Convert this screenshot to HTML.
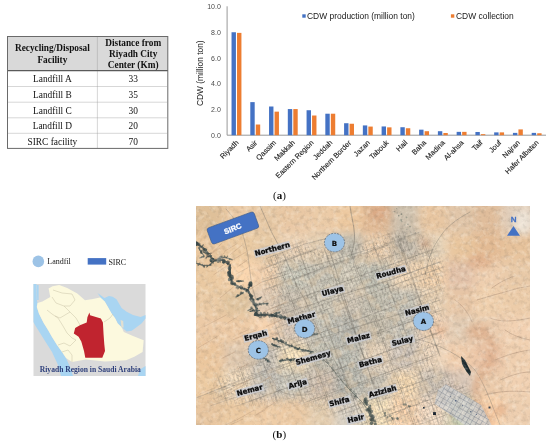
<!DOCTYPE html>
<html><head><meta charset="utf-8">
<style>
html,body{margin:0;padding:0;background:#fff;}
body{width:550px;height:443px;position:relative;overflow:hidden;}
svg{position:absolute;left:0;top:0;}
.th{font-family:"Liberation Serif",serif;font-weight:bold;font-size:9.3px;fill:#111;}
.td{font-family:"Liberation Serif",serif;font-size:9.4px;fill:#111;}
.tk{font-family:"Liberation Sans",sans-serif;font-size:7px;fill:#4a4a4a;}
.xl{font-family:"Liberation Sans",sans-serif;font-size:7.3px;fill:#1a1a1a;stroke:#1a1a1a;stroke-width:0.12px;}
.yt{font-family:"Liberation Sans",sans-serif;font-size:8.4px;fill:#1a1a1a;}
.lg{font-family:"Liberation Sans",sans-serif;font-size:8.45px;fill:#1a1a1a;}
.ml{font-family:"DejaVu Sans",sans-serif;font-weight:bold;font-size:7.1px;fill:#0a0a0a;stroke:#0a0a0a;stroke-width:0.32px;}
.cl{font-family:"DejaVu Sans",sans-serif;font-weight:bold;font-size:7px;fill:#111;stroke:#111;stroke-width:0.2px;}
.sirc{font-family:"Liberation Sans",sans-serif;font-weight:bold;font-size:7.6px;fill:#fff;stroke:#fff;stroke-width:0.25px;}
.na{font-family:"Liberation Sans",sans-serif;font-weight:bold;font-size:8px;fill:#4472c4;stroke:#4472c4;stroke-width:0.3px;}
.cap{font-family:"Liberation Serif",serif;font-size:11px;fill:#111;}
.leg2{font-family:"Liberation Serif",serif;font-size:8px;fill:#222;}
.smt{font-family:"Liberation Serif",serif;font-weight:bold;font-size:8.3px;fill:#2c3e7a;}
</style></head><body>
<svg width="550" height="443" viewBox="0 0 550 443">
<defs>
<filter id="blurB" x="-20%" y="-20%" width="140%" height="140%"><feGaussianBlur stdDeviation="5"/></filter>
<filter id="blur3" x="-20%" y="-20%" width="140%" height="140%"><feGaussianBlur stdDeviation="3"/></filter>
<filter id="blur1" x="-20%" y="-20%" width="140%" height="140%"><feGaussianBlur stdDeviation="0.7"/></filter>
<filter id="blur05" x="-5%" y="-5%" width="110%" height="110%"><feGaussianBlur stdDeviation="0.45"/></filter>
<filter id="blurM" x="-20%" y="-20%" width="140%" height="140%"><feGaussianBlur stdDeviation="4"/></filter>
<filter id="noise" x="0" y="0" width="100%" height="100%" color-interpolation-filters="sRGB">
<feTurbulence type="fractalNoise" baseFrequency="0.22" numOctaves="3" seed="7" result="t"/>
<feColorMatrix in="t" type="matrix" values="0 0 0 0 0.32  0 0 0 0 0.30  0 0 0 0 0.27  -2.6 0 0 0 1.38"/>
</filter>
<filter id="noiseL" x="0" y="0" width="100%" height="100%" color-interpolation-filters="sRGB">
<feTurbulence type="fractalNoise" baseFrequency="0.18" numOctaves="3" seed="11" result="t"/>
<feColorMatrix in="t" type="matrix" values="0 0 0 0 1  0 0 0 0 0.96  0 0 0 0 0.9  0 -2.6 0 0 1.38"/>
</filter>
<pattern id="ugrid" patternUnits="userSpaceOnUse" width="3.6" height="11" patternTransform="rotate(-20)">
<rect x="0" y="0" width="3.6" height="0.8" fill="#77726a"/>
<rect x="0" y="0" width="0.6" height="11" fill="#77726a"/>
</pattern>
<pattern id="ugrid2" patternUnits="userSpaceOnUse" width="24" height="20" patternTransform="rotate(-20) translate(3,2)">
<rect x="0" y="0" width="24" height="0.9" fill="#6d6860"/>
<rect x="0" y="0" width="0.9" height="20" fill="#6d6860"/>
</pattern>
<filter id="noiseF" x="0" y="0" width="100%" height="100%" color-interpolation-filters="sRGB">
<feTurbulence type="fractalNoise" baseFrequency="0.45" numOctaves="2" seed="3" result="t"/>
<feColorMatrix in="t" type="matrix" values="0 0 0 0 0.42  0 0 0 0 0.40  0 0 0 0 0.37  -3.2 0 0 0 1.75"/>
</filter>
<filter id="noiseFL" x="0" y="0" width="100%" height="100%" color-interpolation-filters="sRGB">
<feTurbulence type="fractalNoise" baseFrequency="0.5" numOctaves="2" seed="9" result="t"/>
<feColorMatrix in="t" type="matrix" values="0 0 0 0 0.95  0 0 0 0 0.9  0 0 0 0 0.82  0 -3.2 0 0 1.75"/>
</filter>
<filter id="tanp" x="0" y="0" width="100%" height="100%" color-interpolation-filters="sRGB">
<feTurbulence type="fractalNoise" baseFrequency="0.09" numOctaves="2" seed="21" result="t"/>
<feColorMatrix in="t" type="matrix" values="0 0 0 0 0.87  0 0 0 0 0.78  0 0 0 0 0.66  7 0 0 0 -3.6"/>
</filter>
<mask id="umask" maskUnits="userSpaceOnUse" x="196" y="206" width="334" height="219">
<path d="M262,255 L300,240 L330,250 L360,240 L400,230 L430,238 L445,268 L440,300 L445,340 L432,362 L470,390 L492,420 L440,428 L360,428 L340,415 L300,402 L250,405 L210,400 L215,380 L250,360 L270,345 L275,320 L265,290 Z" fill="#fff" filter="url(#blurM)"/>
</mask>
<clipPath id="mclip"><rect x="196" y="206" width="334" height="219"/></clipPath>
</defs>
<rect x="7" y="36" width="161" height="34.5" fill="#d9d9d9"/>
<line x1="7.5" y1="86.5" x2="167.5" y2="86.5" stroke="#9a9a9a" stroke-width="0.8" stroke-dasharray="1 1"/>
<line x1="7.5" y1="102.2" x2="167.5" y2="102.2" stroke="#9a9a9a" stroke-width="0.8" stroke-dasharray="1 1"/>
<line x1="7.5" y1="117.8" x2="167.5" y2="117.8" stroke="#9a9a9a" stroke-width="0.8" stroke-dasharray="1 1"/>
<line x1="7.5" y1="133.3" x2="167.5" y2="133.3" stroke="#9a9a9a" stroke-width="0.8" stroke-dasharray="1 1"/>
<line x1="97.4" y1="36.5" x2="97.4" y2="148.3" stroke="#9a9a9a" stroke-width="0.8" stroke-dasharray="1 1"/>
<line x1="7" y1="70.6" x2="168" y2="70.6" stroke="#5a5a5a" stroke-width="1.4"/>
<rect x="7.5" y="36.5" width="160.3" height="111.9" fill="none" stroke="#6a6a6a" stroke-width="1"/>
<text class="th" x="52.4" y="51.3" text-anchor="middle">Recycling/Disposal</text>
<text class="th" x="52.4" y="63" text-anchor="middle">Facility</text>
<text class="th" x="133.2" y="45.8" text-anchor="middle">Distance from</text>
<text class="th" x="133.2" y="57" text-anchor="middle">Riyadh City</text>
<text class="th" x="133.2" y="67.9" text-anchor="middle">Center (Km)</text>
<text class="td" x="52.4" y="82.4" text-anchor="middle">Landfill A</text>
<text class="td" x="133.2" y="82.4" text-anchor="middle">33</text>
<text class="td" x="52.4" y="98.0" text-anchor="middle">Landfill B</text>
<text class="td" x="133.2" y="98.0" text-anchor="middle">35</text>
<text class="td" x="52.4" y="113.5" text-anchor="middle">Landfill C</text>
<text class="td" x="133.2" y="113.5" text-anchor="middle">30</text>
<text class="td" x="52.4" y="129.1" text-anchor="middle">Landfill D</text>
<text class="td" x="133.2" y="129.1" text-anchor="middle">20</text>
<text class="td" x="52.4" y="144.6" text-anchor="middle">SIRC facility</text>
<text class="td" x="133.2" y="144.6" text-anchor="middle">70</text>
<line x1="227.1" y1="6.3" x2="227.1" y2="135.2" stroke="#8c8c8c" stroke-width="0.9"/>
<line x1="227.1" y1="135.2" x2="546.0" y2="135.2" stroke="#8c8c8c" stroke-width="0.9"/>
<text x="220.8" y="137.7" class="tk" text-anchor="end">0.0</text>
<text x="220.8" y="112.0" class="tk" text-anchor="end">2.0</text>
<text x="220.8" y="86.2" class="tk" text-anchor="end">4.0</text>
<text x="220.8" y="60.5" class="tk" text-anchor="end">6.0</text>
<text x="220.8" y="34.7" class="tk" text-anchor="end">8.0</text>
<text x="220.8" y="9.0" class="tk" text-anchor="end">10.0</text>
<rect x="231.53" y="32.24" width="4.4" height="102.96" fill="#4472c4"/>
<rect x="237.03" y="32.88" width="4.4" height="102.32" fill="#ed7d31"/>
<text class="xl" text-anchor="end" transform="translate(239.08,143.20) rotate(-45)">Riyadh</text>
<rect x="250.29" y="102.12" width="4.4" height="33.08" fill="#4472c4"/>
<rect x="255.79" y="124.52" width="4.4" height="10.68" fill="#ed7d31"/>
<text class="xl" text-anchor="end" transform="translate(257.84,143.20) rotate(-45)">Asir</text>
<rect x="269.05" y="106.50" width="4.4" height="28.70" fill="#4472c4"/>
<rect x="274.55" y="111.65" width="4.4" height="23.55" fill="#ed7d31"/>
<text class="xl" text-anchor="end" transform="translate(276.60,143.20) rotate(-45)">Qassim</text>
<rect x="287.81" y="109.07" width="4.4" height="26.13" fill="#4472c4"/>
<rect x="293.31" y="109.07" width="4.4" height="26.13" fill="#ed7d31"/>
<text class="xl" text-anchor="end" transform="translate(295.36,143.20) rotate(-45)">Makkah</text>
<rect x="306.57" y="110.23" width="4.4" height="24.97" fill="#4472c4"/>
<rect x="312.07" y="115.51" width="4.4" height="19.69" fill="#ed7d31"/>
<text class="xl" text-anchor="end" transform="translate(314.12,143.20) rotate(-45)">Eastern Region</text>
<rect x="325.33" y="113.71" width="4.4" height="21.49" fill="#4472c4"/>
<rect x="330.83" y="113.71" width="4.4" height="21.49" fill="#ed7d31"/>
<text class="xl" text-anchor="end" transform="translate(332.88,143.20) rotate(-45)">Jeddah</text>
<rect x="344.09" y="123.23" width="4.4" height="11.97" fill="#4472c4"/>
<rect x="349.59" y="123.75" width="4.4" height="11.45" fill="#ed7d31"/>
<text class="xl" text-anchor="end" transform="translate(351.64,143.20) rotate(-45)">Northern Border</text>
<rect x="362.85" y="125.42" width="4.4" height="9.78" fill="#4472c4"/>
<rect x="368.35" y="126.58" width="4.4" height="8.62" fill="#ed7d31"/>
<text class="xl" text-anchor="end" transform="translate(370.40,143.20) rotate(-45)">Jazan</text>
<rect x="381.61" y="126.45" width="4.4" height="8.75" fill="#4472c4"/>
<rect x="387.11" y="127.35" width="4.4" height="7.85" fill="#ed7d31"/>
<text class="xl" text-anchor="end" transform="translate(389.16,143.20) rotate(-45)">Tabouk</text>
<rect x="400.37" y="127.22" width="4.4" height="7.98" fill="#4472c4"/>
<rect x="405.87" y="128.25" width="4.4" height="6.95" fill="#ed7d31"/>
<text class="xl" text-anchor="end" transform="translate(407.92,143.20) rotate(-45)">Hail</text>
<rect x="419.13" y="129.67" width="4.4" height="5.53" fill="#4472c4"/>
<rect x="424.63" y="131.21" width="4.4" height="3.99" fill="#ed7d31"/>
<text class="xl" text-anchor="end" transform="translate(426.68,143.20) rotate(-45)">Baha</text>
<rect x="437.89" y="131.21" width="4.4" height="3.99" fill="#4472c4"/>
<rect x="443.39" y="133.01" width="4.4" height="2.19" fill="#ed7d31"/>
<text class="xl" text-anchor="end" transform="translate(445.44,143.20) rotate(-45)">Madina</text>
<rect x="456.65" y="131.85" width="4.4" height="3.35" fill="#4472c4"/>
<rect x="462.15" y="131.85" width="4.4" height="3.35" fill="#ed7d31"/>
<text class="xl" text-anchor="end" transform="translate(464.20,143.20) rotate(-45)">Al-ahsa</text>
<rect x="475.41" y="131.98" width="4.4" height="3.22" fill="#4472c4"/>
<rect x="480.91" y="134.17" width="4.4" height="1.03" fill="#ed7d31"/>
<text class="xl" text-anchor="end" transform="translate(482.96,143.20) rotate(-45)">Taif</text>
<rect x="494.17" y="132.37" width="4.4" height="2.83" fill="#4472c4"/>
<rect x="499.67" y="132.37" width="4.4" height="2.83" fill="#ed7d31"/>
<text class="xl" text-anchor="end" transform="translate(501.72,143.20) rotate(-45)">Jouf</text>
<rect x="512.93" y="132.88" width="4.4" height="2.32" fill="#4472c4"/>
<rect x="518.43" y="129.41" width="4.4" height="5.79" fill="#ed7d31"/>
<text class="xl" text-anchor="end" transform="translate(520.48,143.20) rotate(-45)">Najran</text>
<rect x="531.69" y="132.88" width="4.4" height="2.32" fill="#4472c4"/>
<rect x="537.19" y="133.27" width="4.4" height="1.93" fill="#ed7d31"/>
<text class="xl" text-anchor="end" transform="translate(539.24,143.20) rotate(-45)">Hafer Albaten</text>
<text class="yt" text-anchor="middle" transform="translate(203.2,73.2) rotate(-90)">CDW (million ton)</text>
<rect x="302.3" y="14.3" width="3.4" height="3.4" fill="#4472c4"/>
<text x="307" y="19.2" class="lg">CDW production (million ton)</text>
<rect x="450.9" y="14.3" width="3.4" height="3.4" fill="#ed7d31"/>
<text x="456" y="19.2" class="lg">CDW collection</text>
<text x="273" y="198.7" class="cap">(<tspan font-weight="bold">a</tspan>)</text>
<g clip-path="url(#mclip)">
<g filter="url(#blurB)"><rect x="176.0" y="186.0" width="48.4" height="48.0" fill="#dfc099"/><rect x="223.8" y="186.0" width="28.4" height="48.0" fill="#ebcaa5"/><rect x="251.7" y="186.0" width="28.4" height="48.0" fill="#e6c8a4"/><rect x="279.5" y="186.0" width="28.4" height="48.0" fill="#e9c8a4"/><rect x="307.3" y="186.0" width="28.4" height="48.0" fill="#ebcba7"/><rect x="335.2" y="186.0" width="28.4" height="48.0" fill="#edc9a0"/><rect x="363.0" y="186.0" width="28.4" height="48.0" fill="#dfb793"/><rect x="390.8" y="186.0" width="28.4" height="48.0" fill="#cec1ae"/><rect x="418.7" y="186.0" width="28.4" height="48.0" fill="#e9c7a2"/><rect x="446.5" y="186.0" width="28.4" height="48.0" fill="#e1c6a9"/><rect x="474.3" y="186.0" width="28.4" height="48.0" fill="#e0bd9b"/><rect x="502.2" y="186.0" width="48.4" height="48.0" fill="#e1cfbc"/><rect x="176.0" y="233.4" width="48.4" height="28.0" fill="#e9c79f"/><rect x="223.8" y="233.4" width="28.4" height="28.0" fill="#ebcba3"/><rect x="251.7" y="233.4" width="28.4" height="28.0" fill="#e7caa5"/><rect x="279.5" y="233.4" width="28.4" height="28.0" fill="#f0d5b8"/><rect x="307.3" y="233.4" width="28.4" height="28.0" fill="#e5d0b4"/><rect x="335.2" y="233.4" width="28.4" height="28.0" fill="#c3c0b3"/><rect x="363.0" y="233.4" width="28.4" height="28.0" fill="#f3d3b0"/><rect x="390.8" y="233.4" width="28.4" height="28.0" fill="#c0b7a9"/><rect x="418.7" y="233.4" width="28.4" height="28.0" fill="#e8d6bc"/><rect x="446.5" y="233.4" width="28.4" height="28.0" fill="#e9c69e"/><rect x="474.3" y="233.4" width="28.4" height="28.0" fill="#e3bb94"/><rect x="502.2" y="233.4" width="48.4" height="28.0" fill="#e7c39c"/><rect x="176.0" y="260.8" width="48.4" height="28.0" fill="#eac9a1"/><rect x="223.8" y="260.8" width="28.4" height="28.0" fill="#fbd7af"/><rect x="251.7" y="260.8" width="28.4" height="28.0" fill="#f4d2ae"/><rect x="279.5" y="260.8" width="28.4" height="28.0" fill="#cbccbf"/><rect x="307.3" y="260.8" width="28.4" height="28.0" fill="#c7c5b8"/><rect x="335.2" y="260.8" width="28.4" height="28.0" fill="#d2ccbb"/><rect x="363.0" y="260.8" width="28.4" height="28.0" fill="#bfc1b6"/><rect x="390.8" y="260.8" width="28.4" height="28.0" fill="#fadebb"/><rect x="418.7" y="260.8" width="28.4" height="28.0" fill="#f8d5ae"/><rect x="446.5" y="260.8" width="28.4" height="28.0" fill="#e1c1a8"/><rect x="474.3" y="260.8" width="28.4" height="28.0" fill="#efcfaf"/><rect x="502.2" y="260.8" width="48.4" height="28.0" fill="#e9caa8"/><rect x="176.0" y="288.1" width="48.4" height="28.0" fill="#eacaa4"/><rect x="223.8" y="288.1" width="28.4" height="28.0" fill="#e0c49f"/><rect x="251.7" y="288.1" width="28.4" height="28.0" fill="#e3ceb7"/><rect x="279.5" y="288.1" width="28.4" height="28.0" fill="#c9c0b0"/><rect x="307.3" y="288.1" width="28.4" height="28.0" fill="#cfcabb"/><rect x="335.2" y="288.1" width="28.4" height="28.0" fill="#d4caba"/><rect x="363.0" y="288.1" width="28.4" height="28.0" fill="#c4c1b3"/><rect x="390.8" y="288.1" width="28.4" height="28.0" fill="#c6c5ba"/><rect x="418.7" y="288.1" width="28.4" height="28.0" fill="#edd5b7"/><rect x="446.5" y="288.1" width="28.4" height="28.0" fill="#e7c6a6"/><rect x="474.3" y="288.1" width="28.4" height="28.0" fill="#f0d0ad"/><rect x="502.2" y="288.1" width="48.4" height="28.0" fill="#eccca9"/><rect x="176.0" y="315.5" width="48.4" height="28.0" fill="#eccaa6"/><rect x="223.8" y="315.5" width="28.4" height="28.0" fill="#edcaa5"/><rect x="251.7" y="315.5" width="28.4" height="28.0" fill="#f6d3af"/><rect x="279.5" y="315.5" width="28.4" height="28.0" fill="#dccbbb"/><rect x="307.3" y="315.5" width="28.4" height="28.0" fill="#c7c7bd"/><rect x="335.2" y="315.5" width="28.4" height="28.0" fill="#b6b7b0"/><rect x="363.0" y="315.5" width="28.4" height="28.0" fill="#c7bfae"/><rect x="390.8" y="315.5" width="28.4" height="28.0" fill="#cac8bd"/><rect x="418.7" y="315.5" width="28.4" height="28.0" fill="#fadabd"/><rect x="446.5" y="315.5" width="28.4" height="28.0" fill="#e2ccb4"/><rect x="474.3" y="315.5" width="28.4" height="28.0" fill="#eaccae"/><rect x="502.2" y="315.5" width="48.4" height="28.0" fill="#f2d1b2"/><rect x="176.0" y="342.9" width="48.4" height="28.0" fill="#ebc69d"/><rect x="223.8" y="342.9" width="28.4" height="28.0" fill="#dfc8ae"/><rect x="251.7" y="342.9" width="28.4" height="28.0" fill="#cbc5bb"/><rect x="279.5" y="342.9" width="28.4" height="28.0" fill="#ffeac3"/><rect x="307.3" y="342.9" width="28.4" height="28.0" fill="#c3c1b4"/><rect x="335.2" y="342.9" width="28.4" height="28.0" fill="#bcbeb5"/><rect x="363.0" y="342.9" width="28.4" height="28.0" fill="#f0dcc3"/><rect x="390.8" y="342.9" width="28.4" height="28.0" fill="#d4cac1"/><rect x="418.7" y="342.9" width="28.4" height="28.0" fill="#f2dac0"/><rect x="446.5" y="342.9" width="28.4" height="28.0" fill="#f0ccab"/><rect x="474.3" y="342.9" width="28.4" height="28.0" fill="#e8c1a3"/><rect x="502.2" y="342.9" width="48.4" height="28.0" fill="#f0d0b0"/><rect x="176.0" y="370.2" width="48.4" height="28.0" fill="#edcba2"/><rect x="223.8" y="370.2" width="28.4" height="28.0" fill="#fbe3c3"/><rect x="251.7" y="370.2" width="28.4" height="28.0" fill="#c8c5bd"/><rect x="279.5" y="370.2" width="28.4" height="28.0" fill="#ceccc1"/><rect x="307.3" y="370.2" width="28.4" height="28.0" fill="#d2c1b1"/><rect x="335.2" y="370.2" width="28.4" height="28.0" fill="#b5b8b1"/><rect x="363.0" y="370.2" width="28.4" height="28.0" fill="#c9c4b8"/><rect x="390.8" y="370.2" width="28.4" height="28.0" fill="#ffe1b7"/><rect x="418.7" y="370.2" width="28.4" height="28.0" fill="#cec4b8"/><rect x="446.5" y="370.2" width="28.4" height="28.0" fill="#dbc9ba"/><rect x="474.3" y="370.2" width="28.4" height="28.0" fill="#ebcaaa"/><rect x="502.2" y="370.2" width="48.4" height="28.0" fill="#f1d1b2"/><rect x="176.0" y="397.6" width="48.4" height="48.0" fill="#e8c6a0"/><rect x="223.8" y="397.6" width="28.4" height="48.0" fill="#eccaa2"/><rect x="251.7" y="397.6" width="28.4" height="48.0" fill="#efcda7"/><rect x="279.5" y="397.6" width="28.4" height="48.0" fill="#eccaa4"/><rect x="307.3" y="397.6" width="28.4" height="48.0" fill="#e4ceb0"/><rect x="335.2" y="397.6" width="28.4" height="48.0" fill="#dbd4c8"/><rect x="363.0" y="397.6" width="28.4" height="48.0" fill="#ffeac2"/><rect x="390.8" y="397.6" width="28.4" height="48.0" fill="#ffd8b1"/><rect x="418.7" y="397.6" width="28.4" height="48.0" fill="#fbe2ca"/><rect x="446.5" y="397.6" width="28.4" height="48.0" fill="#cbd2b6"/><rect x="474.3" y="397.6" width="28.4" height="48.0" fill="#ffd7af"/><rect x="502.2" y="397.6" width="48.4" height="48.0" fill="#eecfb0"/></g>
<g mask="url(#umask)"><rect x="196" y="206" width="334" height="219" fill="url(#ugrid)" opacity="0.35"/><rect x="196" y="206" width="334" height="219" fill="url(#ugrid2)" opacity="0.45"/><rect x="196" y="206" width="334" height="219" filter="url(#noiseF)" opacity="0.35"/><rect x="196" y="206" width="334" height="219" filter="url(#noiseFL)" opacity="0.25"/><rect x="196" y="206" width="334" height="219" filter="url(#tanp)" opacity="0.42"/></g>
<g fill="none" stroke-linecap="round" stroke-linejoin="round">
<path d="M226,209 C236,220 242,230 243,235 C246,245 248,255 248.5,260 C250,272 251,280 252,286 L256,300" stroke="#7c776e" stroke-width="0.8" opacity="0.5"/>
<path d="M260,206 L272,233 L284.6,256.5 L297,286 L306,302 L318,330 L330,352 L352,392 L368,425" stroke="#7c776e" stroke-width="0.9" opacity="0.5"/>
<path d="M350,206 C352,222 358,236 352,252" stroke="#7c776e" stroke-width="0.9" opacity="0.6"/>
<path d="M470,212 C455,220 445,228 438,240 C430,252 428,262 425,275" stroke="#7c776e" stroke-width="0.8" opacity="0.5"/>
<path d="M196,398 C230,385 260,370 300,360" stroke="#7c776e" stroke-width="0.7" opacity="0.45"/>
<path d="M420,340 C440,345 460,355 475,370 C485,385 490,400 500,425" stroke="#7c776e" stroke-width="0.8" opacity="0.5"/>
<path d="M330,252 L345,300 L358,340 L370,375 L380,410" stroke="#7c776e" stroke-width="1.0" opacity="0.5"/>
<path d="M266.5,258.3 L305,244 L340,235" stroke="#7c776e" stroke-width="0.8" opacity="0.45"/>
<path d="M262,282 L300,270 L340,258 L380,246 L420,232" stroke="#7c776e" stroke-width="0.9" opacity="0.45"/>
<path d="M270,318 L310,305 L350,292 L390,280 L440,262" stroke="#7c776e" stroke-width="0.9" opacity="0.45"/>
<path d="M276,352 L320,338 L360,326 L400,314 L440,300" stroke="#7c776e" stroke-width="0.9" opacity="0.45"/>
<path d="M300,390 L340,376 L380,364 L420,350" stroke="#7c776e" stroke-width="0.9" opacity="0.45"/>
<path d="M398,236 L410,270 L420,300 L430,330 L440,356" stroke="#7c776e" stroke-width="0.9" opacity="0.45"/>
<path d="M210,406 C240,395 280,385 310,372" stroke="#7c776e" stroke-width="0.7" opacity="0.4"/>
<path d="M268,374 C275,385 280,392 284,393 C295,396 302,395 306,395" stroke="#7c776e" stroke-width="0.8" opacity="0.45"/>
</g>
<g filter="url(#blur05)" fill="none" stroke-linecap="round" stroke-linejoin="round">
<path d="M196.0,242.8 L205.0,249.5 L214.0,260.8 L223.0,259.7 L229.9,265.3 L229.9,274.4 L232.1,283.4 L241.1,287.9 L247.9,290.2 L250.2,294.7 L254.7,303.7 L257.0,310.5 L254.7,315.0 L263.7,315.0 L272.7,315.0 L281.8,317.3 L290.8,319.5" stroke="#3e4d4d" stroke-width="2.0" opacity="0.85"/>
<path d="M196.0,263.0 L202.8,265.3 L209.5,265.3 L214.0,260.8" stroke="#3e4d4d" stroke-width="1.3" opacity="0.75"/>
<path d="M218.6,258.6 L225.3,257.4 L232.1,259.7" stroke="#3e4d4d" stroke-width="1.3" opacity="0.75"/>
<path d="M236.6,281.1 L243.4,281.1" stroke="#3e4d4d" stroke-width="1.3" opacity="0.75"/>
<path d="M243.4,292.4 L240.0,294.7 L236.0,297.0" stroke="#3e4d4d" stroke-width="1.3" opacity="0.75"/>
<path d="M257.0,299.2 L261.5,297.0" stroke="#3e4d4d" stroke-width="1.3" opacity="0.75"/>
<path d="M252.4,308.2 L248.0,310.5" stroke="#3e4d4d" stroke-width="1.3" opacity="0.75"/>
<path d="M250.2,284.5 L247.9,290.2" stroke="#3e4d4d" stroke-width="1.3" opacity="0.75"/>
<path d="M254.5,304.5 L261.0,303.8 L268.0,303.4" stroke="#3e4d4d" stroke-width="1.3" opacity="0.75"/>
<path d="M250.0,311.3 L256.0,310.0" stroke="#3e4d4d" stroke-width="1.3" opacity="0.75"/>
<path d="M274.8,313.5 L280.0,312.0" stroke="#3e4d4d" stroke-width="1.3" opacity="0.75"/>
<path d="M272.6,338.4 L280.0,341.0 L288.4,345.1 L295.0,347.5 L302.0,349.7 L308.0,351.0 L313.2,351.9" stroke="#3e4d4d" stroke-width="1.3" opacity="0.75"/>
<path d="M272.6,345.0 L280.0,347.0" stroke="#3e4d4d" stroke-width="1.3" opacity="0.75"/>
<path d="M279.3,361.0 L287.0,360.0 L295.0,358.7" stroke="#3e4d4d" stroke-width="1.3" opacity="0.75"/>
<path d="M302.0,336.0 L310.0,335.0 L317.7,333.9" stroke="#3e4d4d" stroke-width="1.3" opacity="0.75"/>
<path d="M264.0,358.0 L270.0,362.0" stroke="#3e4d4d" stroke-width="1.3" opacity="0.75"/>
<path d="M200.0,250.0 L204.0,256.0 L200.0,258.0" stroke="#3e4d4d" stroke-width="1.3" opacity="0.75"/>
<path d="M210.0,254.0 L206.0,258.0" stroke="#3e4d4d" stroke-width="1.3" opacity="0.75"/>
<path d="M322.0,358.0 L330.0,366.0 L338.0,376.0 L346.0,386.0 L354.0,394.0 L362.0,402.0 L368.0,410.0 L372.0,420.0" stroke="#56605a" stroke-width="1.0" opacity="0.5"/>
</g>
<g filter="url(#blur05)">
<ellipse cx="196.4" cy="243.6" rx="2.1" ry="2.3" transform="rotate(133 196.4 243.6)" fill="#3a4848" opacity="0.87"/>
<ellipse cx="196.0" cy="243.8" rx="2.3" ry="1.8" transform="rotate(162 196.0 243.8)" fill="#3a4848" opacity="0.59"/>
<ellipse cx="198.9" cy="244.2" rx="1.7" ry="1.7" transform="rotate(2 198.9 244.2)" fill="#3a4848" opacity="0.63"/>
<ellipse cx="199.8" cy="247.5" rx="2.0" ry="1.1" transform="rotate(143 199.8 247.5)" fill="#3a4848" opacity="0.60"/>
<ellipse cx="202.4" cy="246.1" rx="0.8" ry="2.2" transform="rotate(38 202.4 246.1)" fill="#3a4848" opacity="0.63"/>
<ellipse cx="205.0" cy="249.6" rx="1.3" ry="2.3" transform="rotate(97 205.0 249.6)" fill="#3a4848" opacity="0.79"/>
<ellipse cx="204.1" cy="250.9" rx="1.9" ry="2.3" transform="rotate(161 204.1 250.9)" fill="#3a4848" opacity="0.65"/>
<ellipse cx="205.7" cy="249.8" rx="1.0" ry="0.9" transform="rotate(54 205.7 249.8)" fill="#3a4848" opacity="0.76"/>
<ellipse cx="205.7" cy="252.9" rx="1.3" ry="1.3" transform="rotate(147 205.7 252.9)" fill="#3a4848" opacity="0.72"/>
<ellipse cx="207.8" cy="253.7" rx="1.9" ry="0.9" transform="rotate(176 207.8 253.7)" fill="#3a4848" opacity="0.56"/>
<ellipse cx="210.3" cy="256.3" rx="0.8" ry="2.1" transform="rotate(66 210.3 256.3)" fill="#3a4848" opacity="0.75"/>
<ellipse cx="209.1" cy="255.1" rx="1.1" ry="2.3" transform="rotate(35 209.1 255.1)" fill="#3a4848" opacity="0.81"/>
<ellipse cx="213.1" cy="259.4" rx="1.4" ry="1.4" transform="rotate(94 213.1 259.4)" fill="#3a4848" opacity="0.82"/>
<ellipse cx="211.6" cy="260.2" rx="2.1" ry="2.2" transform="rotate(7 211.6 260.2)" fill="#3a4848" opacity="0.88"/>
<ellipse cx="212.7" cy="260.3" rx="1.8" ry="2.3" transform="rotate(61 212.7 260.3)" fill="#3a4848" opacity="0.87"/>
<ellipse cx="215.9" cy="260.0" rx="1.3" ry="1.1" transform="rotate(14 215.9 260.0)" fill="#3a4848" opacity="0.60"/>
<ellipse cx="218.2" cy="261.9" rx="1.1" ry="0.9" transform="rotate(178 218.2 261.9)" fill="#3a4848" opacity="0.74"/>
<ellipse cx="219.1" cy="259.3" rx="1.8" ry="2.1" transform="rotate(82 219.1 259.3)" fill="#3a4848" opacity="0.70"/>
<ellipse cx="219.8" cy="261.3" rx="0.9" ry="1.6" transform="rotate(151 219.8 261.3)" fill="#3a4848" opacity="0.60"/>
<ellipse cx="223.7" cy="261.1" rx="1.8" ry="2.1" transform="rotate(19 223.7 261.1)" fill="#3a4848" opacity="0.70"/>
<ellipse cx="223.6" cy="262.2" rx="1.3" ry="1.5" transform="rotate(180 223.6 262.2)" fill="#3a4848" opacity="0.85"/>
<ellipse cx="228.0" cy="262.4" rx="1.6" ry="2.0" transform="rotate(86 228.0 262.4)" fill="#3a4848" opacity="0.65"/>
<ellipse cx="227.9" cy="262.8" rx="1.4" ry="2.4" transform="rotate(173 227.9 262.8)" fill="#3a4848" opacity="0.77"/>
<ellipse cx="229.9" cy="264.8" rx="0.9" ry="1.2" transform="rotate(141 229.9 264.8)" fill="#3a4848" opacity="0.85"/>
<ellipse cx="229.5" cy="268.0" rx="2.0" ry="1.9" transform="rotate(120 229.5 268.0)" fill="#3a4848" opacity="0.82"/>
<ellipse cx="229.5" cy="269.6" rx="1.2" ry="1.6" transform="rotate(139 229.5 269.6)" fill="#3a4848" opacity="0.79"/>
<ellipse cx="229.2" cy="272.2" rx="1.8" ry="1.7" transform="rotate(2 229.2 272.2)" fill="#3a4848" opacity="0.74"/>
<ellipse cx="229.1" cy="273.1" rx="1.5" ry="2.1" transform="rotate(117 229.1 273.1)" fill="#3a4848" opacity="0.83"/>
<ellipse cx="229.4" cy="274.9" rx="2.0" ry="2.1" transform="rotate(63 229.4 274.9)" fill="#3a4848" opacity="0.85"/>
<ellipse cx="231.5" cy="276.8" rx="2.4" ry="2.3" transform="rotate(93 231.5 276.8)" fill="#3a4848" opacity="0.74"/>
<ellipse cx="229.7" cy="279.1" rx="2.3" ry="1.6" transform="rotate(124 229.7 279.1)" fill="#3a4848" opacity="0.80"/>
<ellipse cx="232.0" cy="278.7" rx="2.0" ry="1.7" transform="rotate(120 232.0 278.7)" fill="#3a4848" opacity="0.70"/>
<ellipse cx="232.1" cy="282.5" rx="1.8" ry="2.0" transform="rotate(5 232.1 282.5)" fill="#3a4848" opacity="0.61"/>
<ellipse cx="231.9" cy="283.9" rx="1.2" ry="1.9" transform="rotate(114 231.9 283.9)" fill="#3a4848" opacity="0.56"/>
<ellipse cx="233.8" cy="283.4" rx="0.9" ry="1.0" transform="rotate(57 233.8 283.4)" fill="#3a4848" opacity="0.61"/>
<ellipse cx="234.7" cy="283.7" rx="1.5" ry="1.4" transform="rotate(110 234.7 283.7)" fill="#3a4848" opacity="0.76"/>
<ellipse cx="236.7" cy="287.4" rx="0.8" ry="1.4" transform="rotate(50 236.7 287.4)" fill="#3a4848" opacity="0.69"/>
<ellipse cx="238.1" cy="288.1" rx="1.4" ry="0.9" transform="rotate(110 238.1 288.1)" fill="#3a4848" opacity="0.58"/>
<ellipse cx="241.2" cy="287.4" rx="1.7" ry="2.3" transform="rotate(147 241.2 287.4)" fill="#3a4848" opacity="0.70"/>
<ellipse cx="244.4" cy="289.1" rx="1.4" ry="1.0" transform="rotate(107 244.4 289.1)" fill="#3a4848" opacity="0.75"/>
<ellipse cx="247.1" cy="290.9" rx="1.8" ry="1.4" transform="rotate(161 247.1 290.9)" fill="#3a4848" opacity="0.55"/>
<ellipse cx="246.6" cy="290.4" rx="1.8" ry="1.0" transform="rotate(113 246.6 290.4)" fill="#3a4848" opacity="0.86"/>
<ellipse cx="248.7" cy="292.2" rx="1.2" ry="1.3" transform="rotate(175 248.7 292.2)" fill="#3a4848" opacity="0.68"/>
<ellipse cx="251.7" cy="296.0" rx="1.8" ry="1.2" transform="rotate(177 251.7 296.0)" fill="#3a4848" opacity="0.72"/>
<ellipse cx="250.8" cy="295.9" rx="2.4" ry="1.6" transform="rotate(52 250.8 295.9)" fill="#3a4848" opacity="0.72"/>
<ellipse cx="250.8" cy="298.7" rx="1.5" ry="1.3" transform="rotate(141 250.8 298.7)" fill="#3a4848" opacity="0.84"/>
<ellipse cx="251.3" cy="300.2" rx="1.2" ry="2.3" transform="rotate(141 251.3 300.2)" fill="#3a4848" opacity="0.64"/>
<ellipse cx="253.1" cy="300.8" rx="2.4" ry="1.3" transform="rotate(109 253.1 300.8)" fill="#3a4848" opacity="0.72"/>
<ellipse cx="255.2" cy="304.0" rx="2.0" ry="1.0" transform="rotate(137 255.2 304.0)" fill="#3a4848" opacity="0.66"/>
<ellipse cx="255.6" cy="305.4" rx="1.3" ry="1.6" transform="rotate(84 255.6 305.4)" fill="#3a4848" opacity="0.68"/>
<ellipse cx="257.0" cy="308.5" rx="0.9" ry="1.2" transform="rotate(82 257.0 308.5)" fill="#3a4848" opacity="0.87"/>
<ellipse cx="258.2" cy="310.6" rx="0.8" ry="2.0" transform="rotate(77 258.2 310.6)" fill="#3a4848" opacity="0.75"/>
<ellipse cx="256.5" cy="313.2" rx="1.6" ry="2.3" transform="rotate(69 256.5 313.2)" fill="#3a4848" opacity="0.69"/>
<ellipse cx="255.8" cy="314.0" rx="1.3" ry="2.1" transform="rotate(12 255.8 314.0)" fill="#3a4848" opacity="0.84"/>
<ellipse cx="257.1" cy="314.8" rx="1.3" ry="2.0" transform="rotate(164 257.1 314.8)" fill="#3a4848" opacity="0.60"/>
<ellipse cx="258.2" cy="315.2" rx="1.6" ry="1.3" transform="rotate(28 258.2 315.2)" fill="#3a4848" opacity="0.76"/>
<ellipse cx="261.1" cy="313.6" rx="1.2" ry="2.1" transform="rotate(143 261.1 313.6)" fill="#3a4848" opacity="0.78"/>
<ellipse cx="260.4" cy="315.7" rx="2.4" ry="2.4" transform="rotate(126 260.4 315.7)" fill="#3a4848" opacity="0.57"/>
<ellipse cx="264.8" cy="314.1" rx="1.8" ry="2.3" transform="rotate(128 264.8 314.1)" fill="#3a4848" opacity="0.60"/>
<ellipse cx="264.8" cy="316.3" rx="1.0" ry="1.8" transform="rotate(75 264.8 316.3)" fill="#3a4848" opacity="0.61"/>
<ellipse cx="267.7" cy="313.5" rx="1.0" ry="1.4" transform="rotate(13 267.7 313.5)" fill="#3a4848" opacity="0.57"/>
<ellipse cx="269.3" cy="315.8" rx="2.2" ry="1.0" transform="rotate(78 269.3 315.8)" fill="#3a4848" opacity="0.66"/>
<ellipse cx="271.2" cy="315.0" rx="2.3" ry="1.4" transform="rotate(10 271.2 315.0)" fill="#3a4848" opacity="0.79"/>
<ellipse cx="271.6" cy="315.4" rx="1.6" ry="2.3" transform="rotate(100 271.6 315.4)" fill="#3a4848" opacity="0.77"/>
<ellipse cx="273.8" cy="315.6" rx="1.2" ry="2.0" transform="rotate(93 273.8 315.6)" fill="#3a4848" opacity="0.60"/>
<ellipse cx="275.5" cy="315.5" rx="2.0" ry="1.1" transform="rotate(128 275.5 315.5)" fill="#3a4848" opacity="0.78"/>
<ellipse cx="276.8" cy="316.9" rx="0.9" ry="1.0" transform="rotate(107 276.8 316.9)" fill="#3a4848" opacity="0.63"/>
<ellipse cx="281.2" cy="316.8" rx="1.3" ry="2.1" transform="rotate(5 281.2 316.8)" fill="#3a4848" opacity="0.80"/>
<ellipse cx="280.4" cy="316.2" rx="2.3" ry="1.9" transform="rotate(40 280.4 316.2)" fill="#3a4848" opacity="0.59"/>
<ellipse cx="285.1" cy="318.3" rx="2.1" ry="1.0" transform="rotate(112 285.1 318.3)" fill="#3a4848" opacity="0.67"/>
<ellipse cx="284.6" cy="317.6" rx="1.8" ry="1.4" transform="rotate(69 284.6 317.6)" fill="#3a4848" opacity="0.60"/>
<ellipse cx="288.3" cy="319.1" rx="2.1" ry="1.5" transform="rotate(153 288.3 319.1)" fill="#3a4848" opacity="0.73"/>
<ellipse cx="289.3" cy="319.3" rx="2.0" ry="1.4" transform="rotate(17 289.3 319.3)" fill="#3a4848" opacity="0.56"/>
<ellipse cx="195.2" cy="261.8" rx="1.5" ry="1.1" transform="rotate(137 195.2 261.8)" fill="#3a4848" opacity="0.50"/>
<ellipse cx="198.2" cy="264.8" rx="1.2" ry="1.0" transform="rotate(84 198.2 264.8)" fill="#3a4848" opacity="0.53"/>
<ellipse cx="199.6" cy="263.6" rx="1.0" ry="1.0" transform="rotate(158 199.6 263.6)" fill="#3a4848" opacity="0.55"/>
<ellipse cx="202.2" cy="264.7" rx="0.8" ry="0.9" transform="rotate(42 202.2 264.7)" fill="#3a4848" opacity="0.67"/>
<ellipse cx="203.8" cy="266.4" rx="1.0" ry="1.5" transform="rotate(124 203.8 266.4)" fill="#3a4848" opacity="0.74"/>
<ellipse cx="207.2" cy="266.5" rx="0.7" ry="1.3" transform="rotate(52 207.2 266.5)" fill="#3a4848" opacity="0.74"/>
<ellipse cx="210.1" cy="264.4" rx="0.8" ry="0.6" transform="rotate(41 210.1 264.4)" fill="#3a4848" opacity="0.53"/>
<ellipse cx="210.7" cy="265.0" rx="1.0" ry="0.9" transform="rotate(84 210.7 265.0)" fill="#3a4848" opacity="0.60"/>
<ellipse cx="213.1" cy="262.9" rx="0.8" ry="0.8" transform="rotate(121 213.1 262.9)" fill="#3a4848" opacity="0.83"/>
<ellipse cx="219.0" cy="258.4" rx="1.6" ry="0.6" transform="rotate(11 219.0 258.4)" fill="#3a4848" opacity="0.77"/>
<ellipse cx="220.6" cy="257.0" rx="1.1" ry="1.6" transform="rotate(93 220.6 257.0)" fill="#3a4848" opacity="0.62"/>
<ellipse cx="222.0" cy="256.7" rx="1.5" ry="1.1" transform="rotate(168 222.0 256.7)" fill="#3a4848" opacity="0.52"/>
<ellipse cx="224.6" cy="256.2" rx="1.0" ry="0.7" transform="rotate(46 224.6 256.2)" fill="#3a4848" opacity="0.64"/>
<ellipse cx="227.1" cy="257.0" rx="0.6" ry="1.6" transform="rotate(32 227.1 257.0)" fill="#3a4848" opacity="0.68"/>
<ellipse cx="229.6" cy="259.0" rx="0.7" ry="0.9" transform="rotate(19 229.6 259.0)" fill="#3a4848" opacity="0.69"/>
<ellipse cx="237.7" cy="281.4" rx="1.5" ry="0.8" transform="rotate(3 237.7 281.4)" fill="#3a4848" opacity="0.69"/>
<ellipse cx="238.8" cy="281.3" rx="1.0" ry="1.2" transform="rotate(131 238.8 281.3)" fill="#3a4848" opacity="0.82"/>
<ellipse cx="240.6" cy="281.0" rx="1.4" ry="0.8" transform="rotate(21 240.6 281.0)" fill="#3a4848" opacity="0.61"/>
<ellipse cx="242.3" cy="293.1" rx="1.4" ry="0.9" transform="rotate(23 242.3 293.1)" fill="#3a4848" opacity="0.53"/>
<ellipse cx="241.0" cy="292.5" rx="1.0" ry="1.2" transform="rotate(44 241.0 292.5)" fill="#3a4848" opacity="0.52"/>
<ellipse cx="240.5" cy="293.5" rx="0.8" ry="0.9" transform="rotate(67 240.5 293.5)" fill="#3a4848" opacity="0.53"/>
<ellipse cx="237.8" cy="295.4" rx="1.4" ry="1.2" transform="rotate(161 237.8 295.4)" fill="#3a4848" opacity="0.73"/>
<ellipse cx="257.7" cy="299.4" rx="1.0" ry="1.4" transform="rotate(118 257.7 299.4)" fill="#3a4848" opacity="0.83"/>
<ellipse cx="259.8" cy="298.6" rx="0.9" ry="1.4" transform="rotate(69 259.8 298.6)" fill="#3a4848" opacity="0.55"/>
<ellipse cx="251.3" cy="307.3" rx="0.9" ry="1.3" transform="rotate(51 251.3 307.3)" fill="#3a4848" opacity="0.52"/>
<ellipse cx="250.9" cy="309.5" rx="0.6" ry="0.7" transform="rotate(23 250.9 309.5)" fill="#3a4848" opacity="0.63"/>
<ellipse cx="251.1" cy="285.7" rx="1.2" ry="0.8" transform="rotate(77 251.1 285.7)" fill="#3a4848" opacity="0.63"/>
<ellipse cx="249.0" cy="285.1" rx="1.2" ry="1.4" transform="rotate(131 249.0 285.1)" fill="#3a4848" opacity="0.53"/>
<ellipse cx="248.7" cy="287.4" rx="1.3" ry="1.0" transform="rotate(169 248.7 287.4)" fill="#3a4848" opacity="0.78"/>
<ellipse cx="253.5" cy="304.0" rx="1.5" ry="1.1" transform="rotate(78 253.5 304.0)" fill="#3a4848" opacity="0.65"/>
<ellipse cx="257.4" cy="305.4" rx="1.1" ry="1.6" transform="rotate(107 257.4 305.4)" fill="#3a4848" opacity="0.54"/>
<ellipse cx="259.7" cy="303.8" rx="0.7" ry="1.6" transform="rotate(6 259.7 303.8)" fill="#3a4848" opacity="0.70"/>
<ellipse cx="261.0" cy="304.8" rx="1.0" ry="0.8" transform="rotate(50 261.0 304.8)" fill="#3a4848" opacity="0.57"/>
<ellipse cx="263.5" cy="303.3" rx="1.4" ry="0.8" transform="rotate(63 263.5 303.3)" fill="#3a4848" opacity="0.59"/>
<ellipse cx="266.9" cy="304.4" rx="1.4" ry="1.2" transform="rotate(72 266.9 304.4)" fill="#3a4848" opacity="0.55"/>
<ellipse cx="250.9" cy="311.3" rx="0.6" ry="0.8" transform="rotate(18 250.9 311.3)" fill="#3a4848" opacity="0.75"/>
<ellipse cx="253.0" cy="310.1" rx="1.4" ry="0.9" transform="rotate(123 253.0 310.1)" fill="#3a4848" opacity="0.80"/>
<ellipse cx="254.3" cy="311.2" rx="1.0" ry="0.6" transform="rotate(92 254.3 311.2)" fill="#3a4848" opacity="0.71"/>
<ellipse cx="274.0" cy="313.2" rx="0.9" ry="0.6" transform="rotate(56 274.0 313.2)" fill="#3a4848" opacity="0.63"/>
<ellipse cx="276.5" cy="313.5" rx="1.0" ry="1.6" transform="rotate(147 276.5 313.5)" fill="#3a4848" opacity="0.82"/>
<ellipse cx="278.8" cy="312.9" rx="1.1" ry="1.4" transform="rotate(65 278.8 312.9)" fill="#3a4848" opacity="0.71"/>
<ellipse cx="273.1" cy="338.5" rx="0.9" ry="0.7" transform="rotate(16 273.1 338.5)" fill="#3a4848" opacity="0.62"/>
<ellipse cx="274.7" cy="339.7" rx="1.3" ry="0.9" transform="rotate(167 274.7 339.7)" fill="#3a4848" opacity="0.60"/>
<ellipse cx="276.9" cy="338.6" rx="1.4" ry="1.3" transform="rotate(172 276.9 338.6)" fill="#3a4848" opacity="0.81"/>
<ellipse cx="278.6" cy="341.2" rx="1.3" ry="1.2" transform="rotate(38 278.6 341.2)" fill="#3a4848" opacity="0.68"/>
<ellipse cx="281.0" cy="340.3" rx="1.6" ry="1.1" transform="rotate(71 281.0 340.3)" fill="#3a4848" opacity="0.50"/>
<ellipse cx="281.4" cy="341.0" rx="1.3" ry="1.5" transform="rotate(164 281.4 341.0)" fill="#3a4848" opacity="0.71"/>
<ellipse cx="283.1" cy="341.6" rx="1.3" ry="1.2" transform="rotate(129 283.1 341.6)" fill="#3a4848" opacity="0.63"/>
<ellipse cx="286.0" cy="342.7" rx="0.9" ry="0.9" transform="rotate(112 286.0 342.7)" fill="#3a4848" opacity="0.81"/>
<ellipse cx="285.9" cy="344.6" rx="1.4" ry="0.8" transform="rotate(11 285.9 344.6)" fill="#3a4848" opacity="0.70"/>
<ellipse cx="289.3" cy="346.1" rx="1.3" ry="1.0" transform="rotate(77 289.3 346.1)" fill="#3a4848" opacity="0.69"/>
<ellipse cx="291.7" cy="345.4" rx="0.9" ry="1.2" transform="rotate(174 291.7 345.4)" fill="#3a4848" opacity="0.57"/>
<ellipse cx="291.6" cy="345.7" rx="1.2" ry="1.2" transform="rotate(33 291.6 345.7)" fill="#3a4848" opacity="0.57"/>
<ellipse cx="295.2" cy="347.9" rx="1.3" ry="1.3" transform="rotate(11 295.2 347.9)" fill="#3a4848" opacity="0.67"/>
<ellipse cx="297.6" cy="349.2" rx="0.9" ry="1.5" transform="rotate(116 297.6 349.2)" fill="#3a4848" opacity="0.82"/>
<ellipse cx="297.8" cy="349.1" rx="1.4" ry="1.1" transform="rotate(18 297.8 349.1)" fill="#3a4848" opacity="0.57"/>
<ellipse cx="299.4" cy="348.1" rx="0.8" ry="1.2" transform="rotate(19 299.4 348.1)" fill="#3a4848" opacity="0.77"/>
<ellipse cx="302.6" cy="350.5" rx="1.4" ry="1.3" transform="rotate(166 302.6 350.5)" fill="#3a4848" opacity="0.83"/>
<ellipse cx="304.3" cy="351.3" rx="0.7" ry="0.7" transform="rotate(12 304.3 351.3)" fill="#3a4848" opacity="0.57"/>
<ellipse cx="305.7" cy="350.5" rx="1.3" ry="1.3" transform="rotate(15 305.7 350.5)" fill="#3a4848" opacity="0.64"/>
<ellipse cx="308.1" cy="350.7" rx="0.7" ry="1.2" transform="rotate(67 308.1 350.7)" fill="#3a4848" opacity="0.74"/>
<ellipse cx="310.6" cy="352.7" rx="1.5" ry="0.7" transform="rotate(137 310.6 352.7)" fill="#3a4848" opacity="0.75"/>
<ellipse cx="272.1" cy="344.0" rx="1.1" ry="1.0" transform="rotate(133 272.1 344.0)" fill="#3a4848" opacity="0.82"/>
<ellipse cx="274.1" cy="345.0" rx="1.1" ry="1.3" transform="rotate(142 274.1 345.0)" fill="#3a4848" opacity="0.70"/>
<ellipse cx="275.8" cy="345.6" rx="1.4" ry="1.1" transform="rotate(9 275.8 345.6)" fill="#3a4848" opacity="0.65"/>
<ellipse cx="277.5" cy="346.9" rx="0.7" ry="0.9" transform="rotate(17 277.5 346.9)" fill="#3a4848" opacity="0.67"/>
<ellipse cx="280.6" cy="361.1" rx="1.0" ry="1.5" transform="rotate(17 280.6 361.1)" fill="#3a4848" opacity="0.62"/>
<ellipse cx="282.0" cy="359.5" rx="1.4" ry="1.0" transform="rotate(3 282.0 359.5)" fill="#3a4848" opacity="0.59"/>
<ellipse cx="283.0" cy="360.2" rx="1.1" ry="0.7" transform="rotate(39 283.0 360.2)" fill="#3a4848" opacity="0.84"/>
<ellipse cx="284.9" cy="360.2" rx="0.7" ry="0.9" transform="rotate(172 284.9 360.2)" fill="#3a4848" opacity="0.74"/>
<ellipse cx="287.0" cy="358.8" rx="1.0" ry="1.4" transform="rotate(78 287.0 358.8)" fill="#3a4848" opacity="0.71"/>
<ellipse cx="290.0" cy="360.1" rx="1.2" ry="0.6" transform="rotate(4 290.0 360.1)" fill="#3a4848" opacity="0.77"/>
<ellipse cx="290.8" cy="360.3" rx="1.4" ry="1.5" transform="rotate(68 290.8 360.3)" fill="#3a4848" opacity="0.85"/>
<ellipse cx="293.7" cy="360.0" rx="0.7" ry="1.4" transform="rotate(76 293.7 360.0)" fill="#3a4848" opacity="0.84"/>
<ellipse cx="303.3" cy="335.3" rx="1.0" ry="0.9" transform="rotate(85 303.3 335.3)" fill="#3a4848" opacity="0.60"/>
<ellipse cx="304.4" cy="334.8" rx="0.8" ry="1.1" transform="rotate(13 304.4 334.8)" fill="#3a4848" opacity="0.63"/>
<ellipse cx="307.0" cy="336.5" rx="0.8" ry="0.6" transform="rotate(149 307.0 336.5)" fill="#3a4848" opacity="0.84"/>
<ellipse cx="308.3" cy="334.3" rx="0.8" ry="1.5" transform="rotate(169 308.3 334.3)" fill="#3a4848" opacity="0.51"/>
<ellipse cx="309.2" cy="334.8" rx="0.9" ry="1.4" transform="rotate(67 309.2 334.8)" fill="#3a4848" opacity="0.77"/>
<ellipse cx="311.0" cy="334.8" rx="1.6" ry="1.3" transform="rotate(16 311.0 334.8)" fill="#3a4848" opacity="0.54"/>
<ellipse cx="314.2" cy="334.1" rx="1.0" ry="1.1" transform="rotate(105 314.2 334.1)" fill="#3a4848" opacity="0.84"/>
<ellipse cx="315.1" cy="334.4" rx="0.9" ry="1.1" transform="rotate(132 315.1 334.4)" fill="#3a4848" opacity="0.55"/>
<ellipse cx="264.0" cy="358.5" rx="0.6" ry="1.4" transform="rotate(75 264.0 358.5)" fill="#3a4848" opacity="0.68"/>
<ellipse cx="265.8" cy="359.8" rx="0.7" ry="1.1" transform="rotate(7 265.8 359.8)" fill="#3a4848" opacity="0.63"/>
<ellipse cx="266.6" cy="358.8" rx="0.9" ry="1.1" transform="rotate(118 266.6 358.8)" fill="#3a4848" opacity="0.82"/>
<ellipse cx="268.2" cy="361.1" rx="1.3" ry="1.5" transform="rotate(171 268.2 361.1)" fill="#3a4848" opacity="0.85"/>
<ellipse cx="199.5" cy="249.1" rx="1.5" ry="0.7" transform="rotate(81 199.5 249.1)" fill="#3a4848" opacity="0.76"/>
<ellipse cx="201.1" cy="251.2" rx="1.5" ry="0.9" transform="rotate(99 201.1 251.2)" fill="#3a4848" opacity="0.79"/>
<ellipse cx="201.1" cy="252.6" rx="1.1" ry="1.2" transform="rotate(37 201.1 252.6)" fill="#3a4848" opacity="0.66"/>
<ellipse cx="201.9" cy="253.4" rx="0.9" ry="0.7" transform="rotate(174 201.9 253.4)" fill="#3a4848" opacity="0.59"/>
<ellipse cx="203.4" cy="256.7" rx="1.3" ry="0.9" transform="rotate(149 203.4 256.7)" fill="#3a4848" opacity="0.72"/>
<ellipse cx="201.7" cy="257.3" rx="0.8" ry="0.9" transform="rotate(158 201.7 257.3)" fill="#3a4848" opacity="0.65"/>
<ellipse cx="211.0" cy="253.2" rx="0.7" ry="0.7" transform="rotate(133 211.0 253.2)" fill="#3a4848" opacity="0.70"/>
<ellipse cx="207.4" cy="254.1" rx="1.4" ry="1.1" transform="rotate(157 207.4 254.1)" fill="#3a4848" opacity="0.51"/>
<ellipse cx="207.6" cy="255.7" rx="1.3" ry="1.2" transform="rotate(110 207.6 255.7)" fill="#3a4848" opacity="0.58"/>
<ellipse cx="323.8" cy="356.4" rx="0.7" ry="1.1" transform="rotate(17 323.8 356.4)" fill="#5a625c" opacity="0.37"/>
<ellipse cx="323.4" cy="360.2" rx="1.3" ry="1.2" transform="rotate(12 323.4 360.2)" fill="#5a625c" opacity="0.58"/>
<ellipse cx="326.6" cy="359.7" rx="1.2" ry="0.8" transform="rotate(54 326.6 359.7)" fill="#5a625c" opacity="0.35"/>
<ellipse cx="327.8" cy="362.9" rx="1.3" ry="1.0" transform="rotate(28 327.8 362.9)" fill="#5a625c" opacity="0.43"/>
<ellipse cx="327.5" cy="366.2" rx="0.8" ry="0.7" transform="rotate(63 327.5 366.2)" fill="#5a625c" opacity="0.38"/>
<ellipse cx="329.7" cy="366.5" rx="1.1" ry="0.7" transform="rotate(25 329.7 366.5)" fill="#5a625c" opacity="0.52"/>
<ellipse cx="332.3" cy="367.8" rx="1.1" ry="1.3" transform="rotate(26 332.3 367.8)" fill="#5a625c" opacity="0.44"/>
<ellipse cx="333.2" cy="370.1" rx="1.3" ry="1.0" transform="rotate(119 333.2 370.1)" fill="#5a625c" opacity="0.50"/>
<ellipse cx="335.9" cy="373.3" rx="0.8" ry="0.7" transform="rotate(47 335.9 373.3)" fill="#5a625c" opacity="0.48"/>
<ellipse cx="338.0" cy="373.1" rx="1.1" ry="1.1" transform="rotate(172 338.0 373.1)" fill="#5a625c" opacity="0.39"/>
<ellipse cx="339.1" cy="375.3" rx="0.7" ry="1.1" transform="rotate(152 339.1 375.3)" fill="#5a625c" opacity="0.55"/>
<ellipse cx="337.8" cy="379.9" rx="0.9" ry="1.1" transform="rotate(130 337.8 379.9)" fill="#5a625c" opacity="0.44"/>
<ellipse cx="340.8" cy="379.3" rx="0.7" ry="0.7" transform="rotate(129 340.8 379.3)" fill="#5a625c" opacity="0.49"/>
<ellipse cx="344.3" cy="380.3" rx="0.8" ry="0.7" transform="rotate(170 344.3 380.3)" fill="#5a625c" opacity="0.63"/>
<ellipse cx="346.0" cy="384.0" rx="0.7" ry="0.9" transform="rotate(41 346.0 384.0)" fill="#5a625c" opacity="0.36"/>
<ellipse cx="346.3" cy="385.2" rx="0.7" ry="1.0" transform="rotate(168 346.3 385.2)" fill="#5a625c" opacity="0.68"/>
<ellipse cx="347.5" cy="386.0" rx="1.2" ry="0.7" transform="rotate(97 347.5 386.0)" fill="#5a625c" opacity="0.38"/>
<ellipse cx="351.1" cy="389.4" rx="0.9" ry="0.8" transform="rotate(99 351.1 389.4)" fill="#5a625c" opacity="0.69"/>
<ellipse cx="350.5" cy="389.6" rx="1.0" ry="1.3" transform="rotate(69 350.5 389.6)" fill="#5a625c" opacity="0.57"/>
<ellipse cx="354.1" cy="391.7" rx="1.2" ry="1.0" transform="rotate(25 354.1 391.7)" fill="#5a625c" opacity="0.37"/>
<ellipse cx="355.8" cy="393.9" rx="1.0" ry="1.3" transform="rotate(103 355.8 393.9)" fill="#5a625c" opacity="0.53"/>
<ellipse cx="354.7" cy="396.6" rx="0.8" ry="1.0" transform="rotate(137 354.7 396.6)" fill="#5a625c" opacity="0.56"/>
<ellipse cx="355.7" cy="396.0" rx="1.2" ry="1.2" transform="rotate(18 355.7 396.0)" fill="#5a625c" opacity="0.70"/>
<ellipse cx="357.3" cy="397.5" rx="0.7" ry="1.0" transform="rotate(112 357.3 397.5)" fill="#5a625c" opacity="0.65"/>
<ellipse cx="359.1" cy="401.2" rx="0.7" ry="1.1" transform="rotate(45 359.1 401.2)" fill="#5a625c" opacity="0.47"/>
<ellipse cx="360.2" cy="402.9" rx="0.7" ry="1.2" transform="rotate(61 360.2 402.9)" fill="#5a625c" opacity="0.56"/>
<ellipse cx="364.1" cy="404.0" rx="1.3" ry="1.3" transform="rotate(51 364.1 404.0)" fill="#5a625c" opacity="0.47"/>
<ellipse cx="366.5" cy="404.5" rx="0.9" ry="0.9" transform="rotate(176 366.5 404.5)" fill="#5a625c" opacity="0.39"/>
<ellipse cx="367.1" cy="409.0" rx="1.2" ry="0.6" transform="rotate(170 367.1 409.0)" fill="#5a625c" opacity="0.46"/>
<ellipse cx="369.4" cy="410.6" rx="0.9" ry="1.3" transform="rotate(122 369.4 410.6)" fill="#5a625c" opacity="0.47"/>
<ellipse cx="369.9" cy="412.5" rx="1.2" ry="1.1" transform="rotate(143 369.9 412.5)" fill="#5a625c" opacity="0.41"/>
<ellipse cx="370.0" cy="413.0" rx="1.2" ry="1.2" transform="rotate(151 370.0 413.0)" fill="#5a625c" opacity="0.37"/>
<ellipse cx="371.1" cy="417.4" rx="0.7" ry="0.8" transform="rotate(175 371.1 417.4)" fill="#5a625c" opacity="0.65"/>
<ellipse cx="250.5" cy="284" rx="2" ry="2.8" fill="#2f3d3e" opacity="0.9"/>
<ellipse cx="365.0" cy="401.3" rx="2.0" ry="1.7" transform="rotate(116 365.0 401.3)" fill="#46524f" opacity="0.75"/>
<ellipse cx="365.6" cy="399.3" rx="2.0" ry="1.9" transform="rotate(134 365.6 399.3)" fill="#46524f" opacity="0.80"/>
<ellipse cx="366.7" cy="401.7" rx="2.1" ry="1.6" transform="rotate(107 366.7 401.7)" fill="#46524f" opacity="0.85"/>
<ellipse cx="367.3" cy="404.5" rx="1.3" ry="1.5" transform="rotate(151 367.3 404.5)" fill="#46524f" opacity="0.73"/>
<ellipse cx="366.2" cy="403.1" rx="2.1" ry="1.3" transform="rotate(82 366.2 403.1)" fill="#46524f" opacity="0.79"/>
<ellipse cx="369.7" cy="406.2" rx="1.8" ry="1.2" transform="rotate(143 369.7 406.2)" fill="#46524f" opacity="0.85"/>
<ellipse cx="369.5" cy="408.8" rx="1.9" ry="2.1" transform="rotate(153 369.5 408.8)" fill="#46524f" opacity="0.82"/>
<ellipse cx="367.6" cy="410.3" rx="2.4" ry="1.4" transform="rotate(12 367.6 410.3)" fill="#46524f" opacity="0.77"/>
<ellipse cx="368.4" cy="409.5" rx="1.3" ry="1.5" transform="rotate(1 368.4 409.5)" fill="#46524f" opacity="0.79"/>
<ellipse cx="369.5" cy="412.2" rx="1.7" ry="1.4" transform="rotate(172 369.5 412.2)" fill="#46524f" opacity="0.88"/>
<ellipse cx="371.4" cy="411.5" rx="1.7" ry="1.7" transform="rotate(74 371.4 411.5)" fill="#46524f" opacity="0.71"/>
<ellipse cx="370.8" cy="415.1" rx="2.0" ry="2.2" transform="rotate(123 370.8 415.1)" fill="#46524f" opacity="0.85"/>
<ellipse cx="372.8" cy="417.0" rx="2.2" ry="1.7" transform="rotate(119 372.8 417.0)" fill="#46524f" opacity="0.83"/>
<ellipse cx="373.2" cy="417.5" rx="1.7" ry="1.4" transform="rotate(59 373.2 417.5)" fill="#46524f" opacity="0.75"/>
<ellipse cx="372.7" cy="419.1" rx="1.4" ry="1.8" transform="rotate(151 372.7 419.1)" fill="#46524f" opacity="0.77"/>
<ellipse cx="370.7" cy="419.6" rx="1.6" ry="1.4" transform="rotate(52 370.7 419.6)" fill="#46524f" opacity="0.70"/>
<ellipse cx="371.3" cy="420.0" rx="1.3" ry="1.2" transform="rotate(99 371.3 420.0)" fill="#46524f" opacity="0.89"/>
<ellipse cx="374.3" cy="420.8" rx="2.3" ry="1.3" transform="rotate(27 374.3 420.8)" fill="#46524f" opacity="0.70"/>
<ellipse cx="371.6" cy="423.1" rx="2.1" ry="1.8" transform="rotate(145 371.6 423.1)" fill="#46524f" opacity="0.79"/>
<ellipse cx="375.3" cy="424.3" rx="1.8" ry="1.4" transform="rotate(77 375.3 424.3)" fill="#46524f" opacity="0.79"/>
<ellipse cx="385.0" cy="413.2" rx="1.0" ry="1.5" transform="rotate(13 385.0 413.2)" fill="#4d5955" opacity="0.66"/>
<ellipse cx="385.2" cy="415.5" rx="1.3" ry="0.9" transform="rotate(131 385.2 415.5)" fill="#4d5955" opacity="0.62"/>
<ellipse cx="387.5" cy="417.1" rx="1.4" ry="1.0" transform="rotate(122 387.5 417.1)" fill="#4d5955" opacity="0.54"/>
<ellipse cx="390.1" cy="415.7" rx="1.3" ry="1.5" transform="rotate(115 390.1 415.7)" fill="#4d5955" opacity="0.51"/>
<ellipse cx="392.0" cy="417.9" rx="1.2" ry="0.9" transform="rotate(50 392.0 417.9)" fill="#4d5955" opacity="0.63"/>
<ellipse cx="392.7" cy="419.0" rx="1.0" ry="1.0" transform="rotate(16 392.7 419.0)" fill="#4d5955" opacity="0.59"/>
<ellipse cx="397.3" cy="418.4" rx="0.9" ry="1.1" transform="rotate(170 397.3 418.4)" fill="#4d5955" opacity="0.53"/>
<ellipse cx="397.5" cy="418.6" rx="1.3" ry="1.2" transform="rotate(18 397.5 418.6)" fill="#4d5955" opacity="0.76"/>
<ellipse cx="403.7" cy="404.4" rx="1.0" ry="1.2" transform="rotate(10 403.7 404.4)" fill="#4d5955" opacity="0.57"/>
<ellipse cx="405.6" cy="404.5" rx="1.2" ry="1.0" transform="rotate(62 405.6 404.5)" fill="#4d5955" opacity="0.65"/>
<ellipse cx="408.7" cy="406.1" rx="1.0" ry="1.1" transform="rotate(111 408.7 406.1)" fill="#4d5955" opacity="0.62"/>
<ellipse cx="409.9" cy="406.3" rx="1.0" ry="1.2" transform="rotate(55 409.9 406.3)" fill="#4d5955" opacity="0.61"/>
<ellipse cx="396.7" cy="208.6" rx="0.6" ry="0.7" transform="rotate(132 396.7 208.6)" fill="#6f776d" opacity="0.41"/>
<ellipse cx="394.6" cy="211.8" rx="1.0" ry="0.5" transform="rotate(15 394.6 211.8)" fill="#6f776d" opacity="0.59"/>
<ellipse cx="397.2" cy="213.1" rx="0.5" ry="0.7" transform="rotate(29 397.2 213.1)" fill="#6f776d" opacity="0.50"/>
<ellipse cx="401.4" cy="214.1" rx="0.9" ry="0.9" transform="rotate(111 401.4 214.1)" fill="#6f776d" opacity="0.65"/>
<ellipse cx="398.7" cy="215.8" rx="0.7" ry="0.8" transform="rotate(20 398.7 215.8)" fill="#6f776d" opacity="0.67"/>
<ellipse cx="401.1" cy="220.0" rx="1.0" ry="1.0" transform="rotate(70 401.1 220.0)" fill="#6f776d" opacity="0.66"/>
<ellipse cx="406.5" cy="217.4" rx="0.9" ry="0.9" transform="rotate(82 406.5 217.4)" fill="#6f776d" opacity="0.48"/>
<ellipse cx="401.7" cy="221.4" rx="1.0" ry="0.7" transform="rotate(46 401.7 221.4)" fill="#6f776d" opacity="0.59"/>
<ellipse cx="404.9" cy="224.8" rx="0.7" ry="0.6" transform="rotate(6 404.9 224.8)" fill="#6f776d" opacity="0.65"/>
<ellipse cx="407.8" cy="224.2" rx="0.7" ry="0.8" transform="rotate(91 407.8 224.2)" fill="#6f776d" opacity="0.67"/>
<ellipse cx="410.0" cy="226.6" rx="0.7" ry="0.8" transform="rotate(29 410.0 226.6)" fill="#6f776d" opacity="0.68"/>
<ellipse cx="406.8" cy="229.3" rx="0.6" ry="0.8" transform="rotate(8 406.8 229.3)" fill="#6f776d" opacity="0.47"/>
<ellipse cx="415.4" cy="232.7" rx="0.6" ry="0.7" transform="rotate(6 415.4 232.7)" fill="#6f776d" opacity="0.44"/>
</g>
<g filter="url(#blur3)" opacity="0.55">
<path d="M475,330 C485,333 492,338 492.4,345 C492,355 490,362 488,366 C484,372 480,377 477,383 C474,392 476,402 482,410 C487,416 490,420 492,426" fill="none" stroke="#d59d78" stroke-width="6"/>
<ellipse cx="478" cy="332" rx="12" ry="8" fill="#d9a27d"/>
<ellipse cx="480" cy="262" rx="12" ry="7" fill="#d9a27d"/>
<ellipse cx="425" cy="243" rx="6" ry="5" fill="#c99676"/>
<ellipse cx="380" cy="213" rx="10" ry="6" fill="#d49a74"/>
<ellipse cx="500" cy="410" rx="8" ry="6" fill="#d9a27d"/>
<ellipse cx="440" cy="330" rx="7" ry="5" fill="#d9a27d"/>
</g>
<g fill="none" stroke="#a78c76" stroke-width="0.6" opacity="0.8" stroke-linecap="round">
<path d="M477,300 C490,296 505,292 519,288 L530,286"/>
<path d="M492,288 C500,282 508,278 515,276"/>
<path d="M490,318 C500,322 512,322 530,318"/>
<path d="M495,360 C505,356 515,352 530,350"/>
<path d="M500,380 C510,376 520,372 530,372"/>
<path d="M505,330 C512,335 520,338 530,340"/>
<path d="M485,395 C495,392 510,390 530,392"/>
<path d="M455,300 C462,305 468,312 472,322"/>
</g>
<g fill="none" stroke="#b8977a" stroke-width="0.7" opacity="0.55" stroke-linecap="round">
<path d="M234.6,400.8 l23.5,-13.9"/>
<path d="M252.7,388.0 l18.4,-11.8"/>
<path d="M198.0,348.0 l20.1,-12.1"/>
<path d="M233.1,339.7 l23.3,-9.7"/>
<path d="M225.7,424.8 l10.1,-4.6"/>
<path d="M260.8,318.9 l20.2,-10.4"/>
<path d="M266.7,326.3 l18.1,-7.8"/>
<path d="M243.3,338.6 l10.6,-4.4"/>
<path d="M231.1,424.5 l11.4,-5.2"/>
<path d="M256.2,415.0 l9.0,-5.1"/>
<path d="M199.8,394.0 l15.1,-6.3"/>
<path d="M223.7,396.8 l21.9,-13.2"/>
<path d="M237.2,419.7 l16.9,-9.6"/>
<path d="M215.8,398.3 l12.0,-6.1"/>
<path d="M237.1,369.2 l11.1,-5.4"/>
<path d="M263.8,339.9 l14.7,-6.3"/>
<path d="M238.8,334.1 l9.2,-4.3"/>
<path d="M221.8,358.4 l13.4,-6.6"/>
<path d="M249.9,338.7 l10.5,-4.3"/>
<path d="M263.3,302.6 l18.2,-8.8"/>
<path d="M225.8,391.5 l24.3,-12.3"/>
<path d="M225.0,324.5 l12.3,-7.7"/>
<path d="M204.2,326.5 l22.3,-11.6"/>
<path d="M255.6,415.0 l20.5,-13.5"/>
<path d="M264.5,311.6 l21.8,-9.7"/>
<path d="M244.7,350.5 l9.5,-6.2"/>
<path d="M230.4,254.5 l11.2,-9.0"/>
<path d="M204.8,257.7 l13.6,-9.6"/>
<path d="M217.2,269.2 l12.0,-8.3"/>
<path d="M220.0,298.0 l13.2,-10.8"/>
<path d="M213.2,251.3 l9.1,-8.4"/>
<path d="M236.2,274.1 l11.5,-6.3"/>
<path d="M213.8,274.7 l15.9,-10.7"/>
<path d="M229.1,262.1 l17.1,-10.3"/>
<path d="M212.4,261.3 l12.4,-8.6"/>
<path d="M224.3,251.5 l12.7,-7.8"/>
<path d="M237.3,267.0 l10.9,-7.6"/>
<path d="M225.0,268.5 l6.3,-5.1"/>
<path d="M249.3,289.6 l11.7,-7.0"/>
<path d="M207.4,256.0 l12.1,-7.5"/>
</g>
<path d="M461,356 L465,360 L468,366 L471,372 L470,376 L466,371 L462,364 Z" fill="#1f2c2e" filter="url(#blur05)"/>
<rect x="433" y="412" width="3" height="3" fill="#1c2530"/>
<rect x="488.5" y="406.5" width="2" height="2" fill="#3a4550"/>
<rect x="423" y="407" width="1.6" height="1.6" fill="#2a3440"/>
<clipPath id="indclip"><path d="M446,384.5 L481,405 L492,426 L466,426 L434.5,403.5 L438,390 Z"/></clipPath>
<g clip-path="url(#indclip)">
<rect x="430" y="380" width="65" height="50" fill="#cfd0d2" opacity="0.75"/>
<g transform="translate(440,386) rotate(30)">
<rect x="-18.0" y="-30" width="0.6" height="80" fill="#8e949c" opacity="0.8"/>
<rect x="-13.5" y="-30" width="0.6" height="80" fill="#8e949c" opacity="0.8"/>
<rect x="-9.0" y="-30" width="0.6" height="80" fill="#8e949c" opacity="0.8"/>
<rect x="-4.5" y="-30" width="0.6" height="80" fill="#8e949c" opacity="0.8"/>
<rect x="0.0" y="-30" width="0.6" height="80" fill="#8e949c" opacity="0.8"/>
<rect x="4.5" y="-30" width="0.6" height="80" fill="#8e949c" opacity="0.8"/>
<rect x="9.0" y="-30" width="0.6" height="80" fill="#8e949c" opacity="0.8"/>
<rect x="13.5" y="-30" width="0.6" height="80" fill="#8e949c" opacity="0.8"/>
<rect x="18.0" y="-30" width="0.6" height="80" fill="#8e949c" opacity="0.8"/>
<rect x="22.5" y="-30" width="0.6" height="80" fill="#8e949c" opacity="0.8"/>
<rect x="27.0" y="-30" width="0.6" height="80" fill="#8e949c" opacity="0.8"/>
<rect x="31.5" y="-30" width="0.6" height="80" fill="#8e949c" opacity="0.8"/>
<rect x="36.0" y="-30" width="0.6" height="80" fill="#8e949c" opacity="0.8"/>
<rect x="40.5" y="-30" width="0.6" height="80" fill="#8e949c" opacity="0.8"/>
<rect x="45.0" y="-30" width="0.6" height="80" fill="#8e949c" opacity="0.8"/>
<rect x="49.5" y="-30" width="0.6" height="80" fill="#8e949c" opacity="0.8"/>
<rect x="54.0" y="-30" width="0.6" height="80" fill="#8e949c" opacity="0.8"/>
<rect x="58.5" y="-30" width="0.6" height="80" fill="#8e949c" opacity="0.8"/>
<rect x="-30" y="-27.0" width="100" height="0.6" fill="#8e949c" opacity="0.8"/>
<rect x="-30" y="-22.5" width="100" height="0.6" fill="#8e949c" opacity="0.8"/>
<rect x="-30" y="-18.0" width="100" height="0.6" fill="#8e949c" opacity="0.8"/>
<rect x="-30" y="-13.5" width="100" height="0.6" fill="#8e949c" opacity="0.8"/>
<rect x="-30" y="-9.0" width="100" height="0.6" fill="#8e949c" opacity="0.8"/>
<rect x="-30" y="-4.5" width="100" height="0.6" fill="#8e949c" opacity="0.8"/>
<rect x="-30" y="0.0" width="100" height="0.6" fill="#8e949c" opacity="0.8"/>
<rect x="-30" y="4.5" width="100" height="0.6" fill="#8e949c" opacity="0.8"/>
<rect x="-30" y="9.0" width="100" height="0.6" fill="#8e949c" opacity="0.8"/>
<rect x="-30" y="13.5" width="100" height="0.6" fill="#8e949c" opacity="0.8"/>
<rect x="-30" y="18.0" width="100" height="0.6" fill="#8e949c" opacity="0.8"/>
<rect x="-30" y="22.5" width="100" height="0.6" fill="#8e949c" opacity="0.8"/>
<rect x="-30" y="27.0" width="100" height="0.6" fill="#8e949c" opacity="0.8"/>
<rect x="-30" y="31.5" width="100" height="0.6" fill="#8e949c" opacity="0.8"/>
<rect x="-30" y="36.0" width="100" height="0.6" fill="#8e949c" opacity="0.8"/>
<rect x="-30" y="40.5" width="100" height="0.6" fill="#8e949c" opacity="0.8"/>
<rect x="-30" y="45.0" width="100" height="0.6" fill="#8e949c" opacity="0.8"/>
<rect x="-30" y="49.5" width="100" height="0.6" fill="#8e949c" opacity="0.8"/>
</g></g>
<rect x="455" y="400" width="1.5" height="1.5" fill="#4a5a78" opacity="0.8"/>
<rect x="462" y="405" width="1.2" height="1.2" fill="#4a5a78" opacity="0.8"/>
<rect x="470" y="411" width="1.4" height="1.4" fill="#4a5a78" opacity="0.8"/>
<rect x="476" y="414" width="1.0" height="1.0" fill="#4a5a78" opacity="0.8"/>
<rect x="450" y="396" width="1.0" height="1.0" fill="#4a5a78" opacity="0.8"/>
<ellipse cx="523" cy="222" rx="9" ry="12" fill="#f2ece2" opacity="0.7" filter="url(#blur3)"/>
<rect x="196" y="206" width="334" height="219" filter="url(#noise)" opacity="0.15"/>
<rect x="196" y="206" width="334" height="219" filter="url(#noiseL)" opacity="0.35"/>
<g transform="translate(272.3,249.3) rotate(-15)"><rect x="-18.5" y="-4.0" width="37" height="8.0" fill="#cbccd0" fill-opacity="0.88"/><text x="0" y="2.13" class="ml" text-anchor="middle">Northern</text></g>
<g transform="translate(391,272.7) rotate(-15.5)"><rect x="-15.75" y="-4.0" width="31.5" height="8.0" fill="#cbccd0" fill-opacity="0.88"/><text x="0" y="2.13" class="ml" text-anchor="middle">Roudha</text></g>
<g transform="translate(332.7,291.2) rotate(-15)"><rect x="-12.0" y="-4.0" width="24" height="8.0" fill="#cbccd0" fill-opacity="0.88"/><text x="0" y="2.13" class="ml" text-anchor="middle">Ulaya</text></g>
<g transform="translate(417.2,310.5) rotate(-15)"><rect x="-13.0" y="-4.0" width="26" height="8.0" fill="#cbccd0" fill-opacity="0.88"/><text x="0" y="2.13" class="ml" text-anchor="middle">Nasim</text></g>
<g transform="translate(301.5,318.1) rotate(-16)"><rect x="-15.0" y="-4.0" width="30" height="8.0" fill="#cbccd0" fill-opacity="0.88"/><text x="0" y="2.13" class="ml" text-anchor="middle">Mathar</text></g>
<g transform="translate(255.8,335.9) rotate(-14.5)"><rect x="-12.75" y="-4.0" width="25.5" height="8.0" fill="#cbccd0" fill-opacity="0.88"/><text x="0" y="2.13" class="ml" text-anchor="middle">Erqah</text></g>
<g transform="translate(358.5,338.2) rotate(-14.5)"><rect x="-12.75" y="-4.0" width="25.5" height="8.0" fill="#cbccd0" fill-opacity="0.88"/><text x="0" y="2.13" class="ml" text-anchor="middle">Malaz</text></g>
<g transform="translate(402.4,341.3) rotate(-14.5)"><rect x="-12.25" y="-4.0" width="24.5" height="8.0" fill="#cbccd0" fill-opacity="0.88"/><text x="0" y="2.13" class="ml" text-anchor="middle">Sulay</text></g>
<g transform="translate(313.2,358) rotate(-16)"><rect x="-18.0" y="-4.0" width="36" height="8.0" fill="#cbccd0" fill-opacity="0.88"/><text x="0" y="2.13" class="ml" text-anchor="middle">Shemesy</text></g>
<g transform="translate(370.4,362.4) rotate(-15)"><rect x="-12.75" y="-4.0" width="25.5" height="8.0" fill="#cbccd0" fill-opacity="0.88"/><text x="0" y="2.13" class="ml" text-anchor="middle">Batha</text></g>
<g transform="translate(249.8,390.4) rotate(-15)"><rect x="-14.25" y="-4.0" width="28.5" height="8.0" fill="#cbccd0" fill-opacity="0.88"/><text x="0" y="2.13" class="ml" text-anchor="middle">Nemar</text></g>
<g transform="translate(297.7,384.2) rotate(-15.5)"><rect x="-10.5" y="-4.0" width="21" height="8.0" fill="#cbccd0" fill-opacity="0.88"/><text x="0" y="2.13" class="ml" text-anchor="middle">Arija</text></g>
<g transform="translate(339.4,401.9) rotate(-14.5)"><rect x="-11.25" y="-4.0" width="22.5" height="8.0" fill="#cbccd0" fill-opacity="0.88"/><text x="0" y="2.13" class="ml" text-anchor="middle">Shifa</text></g>
<g transform="translate(382.6,391.6) rotate(-15.5)"><rect x="-14.75" y="-4.0" width="29.5" height="8.0" fill="#cbccd0" fill-opacity="0.88"/><text x="0" y="2.13" class="ml" text-anchor="middle">Aziziah</text></g>
<g transform="translate(355.8,418.9) rotate(-14)"><rect x="-9.5" y="-4.0" width="19" height="8.0" fill="#cbccd0" fill-opacity="0.88"/><text x="0" y="2.13" class="ml" text-anchor="middle">Hair</text></g>
<ellipse cx="334.5" cy="242.6" rx="10.1" ry="9.3" fill="#9dc3e6" stroke="#6b7785" stroke-width="0.9" stroke-dasharray="2 1"/><text x="334.5" y="245.5" class="cl" text-anchor="middle">B</text>
<ellipse cx="423.4" cy="321.2" rx="10.1" ry="9.3" fill="#9dc3e6" stroke="#6b7785" stroke-width="0.9" stroke-dasharray="2 1"/><text x="423.4" y="324.09999999999997" class="cl" text-anchor="middle">A</text>
<ellipse cx="304.6" cy="328.6" rx="10.1" ry="9.3" fill="#9dc3e6" stroke="#6b7785" stroke-width="0.9" stroke-dasharray="2 1"/><text x="304.6" y="331.5" class="cl" text-anchor="middle">D</text>
<ellipse cx="258.3" cy="349.9" rx="10.1" ry="9.3" fill="#9dc3e6" stroke="#6b7785" stroke-width="0.9" stroke-dasharray="2 1"/><text x="258.3" y="352.79999999999995" class="cl" text-anchor="middle">C</text>
<g transform="translate(232.9,228.0) rotate(-20.1)"><rect x="-25" y="-8.6" width="50" height="17.2" rx="2.5" fill="#4472c4" stroke="#3a5a8c" stroke-width="0.6"/><text x="-0.5" y="3.2" class="sirc" text-anchor="middle" transform="rotate(-2)">SIRC</text></g>
<text x="513.7" y="221.6" class="na" text-anchor="middle">N</text>
<path d="M513.5,226 L520,235.8 L507,235.8 Z" fill="#4472c4"/>
</g>
<text x="272.6" y="437.6" class="cap">(<tspan font-weight="bold">b</tspan>)</text>
<circle cx="38.3" cy="261.4" r="5.8" fill="#9dc3e6"/>
<text x="47.3" y="264.3" class="leg2">Landfil</text>
<rect x="87.7" y="258.1" width="18.5" height="6.5" fill="#4472c4"/>
<text x="108.4" y="265" class="leg2">SIRC</text>
<g>
<rect x="33.5" y="284" width="112" height="92" fill="#dadada"/>
<!-- Red Sea -->
<path d="M33.5,284 L36.5,284 L36.8,300 L37.5,303 L36.8,307 L39,313.8 L43.5,322.8 L48,330 L52,337 L57,345 L62,352 L66,358 L70.5,368 L73,376 L61,376 L58,365 L52,352 L45,341 L40,333 L35,325 L33.5,322 Z" fill="#a9d5f2"/>
<path d="M36.8,285 L38.6,285 L38.6,300 L37.2,300 Z" fill="#a9d5f2"/>
<!-- Saudi -->
<path d="M48.6,288.5 L52.5,286.2 L59.3,285 L67.2,288 L77.3,293.5 L85,300.3 L93,299 L99.9,297.6 L104.5,297.9 L105.1,301.7 L107.7,306.2 L111.5,313.1 L115.3,318.2 L117.8,323.2 L121.6,327 L123.8,332 L133,336 L143.7,340.3 L142.6,352 L134.3,356.7 L126.1,360.2 L105,361.4 L85.8,359.5 L72,362 L66,358 L62,352 L57,345 L52,337 L48,330 L43.5,322.8 L39,313.8 L36.8,307 L37.5,303 L42.4,301.4 L50.3,297 Z" fill="#fcf9de"/>
<!-- Gulf -->
<path d="M97.5,293 L101,295.5 L104.5,297.9 L108.9,296 L112.7,296.7 L116.5,299.2 L121.6,308 L126.6,311.8 L133,315 L140.6,316.9 L145.5,315 L145.5,318.5 L141.8,323.2 L136.8,327 L131.7,330.8 L126.6,331.5 L121.6,327 L117.8,323.2 L115.3,318.2 L111.5,313.1 L107.7,306.2 L105.1,301.7 L101,298 Z" fill="#a9d5f2"/>
<path d="M120.6,320 L123.2,321 L123.6,327.5 L121.5,327.5 Z" fill="#e2dfd0"/>
<path d="M140,369.6 L145.5,366 L145.5,376 L138,376 Z" fill="#a9d5f2"/>
<!-- region borders -->
<g fill="none" stroke="#c9c2a6" stroke-width="0.5">
<path d="M53,290 L62,293 L72,294 L75,300 L70,306 L64,306 L56,303 L52,297"/>
<path d="M64,306 L70,312 L76,318 L80,325"/>
<path d="M47,310 L52,314 L58,318 L63,326 L67,333 L72,338 L76,340"/>
<path d="M70,312 L60,318 L55,316"/>
<path d="M58,345 L64,343 L70,346 L76,340"/>
<path d="M62,352 L68,350 L72,355 L72,362"/>
<path d="M104,322 L110,318 L113,314"/>
</g>
<!-- Riyadh region -->
<path d="M89.4,312.5 L90.1,315.2 L100.9,318.6 L102.9,322.6 L103.6,334.8 L104.3,344.3 L105,351.1 L102.3,357.8 L85.3,357.8 L84,351.1 L81.3,341.6 L78.6,336.8 L73.8,333.5 L75.2,328 L79.9,325.3 L86.7,322.6 L87.4,317.2 Z" fill="#c0242f"/>
</g>

<text x="39.8" y="372.1" class="smt" textLength="101" lengthAdjust="spacingAndGlyphs">Riyadh Region in Saudi Arabia</text>
</svg>
</body></html>
